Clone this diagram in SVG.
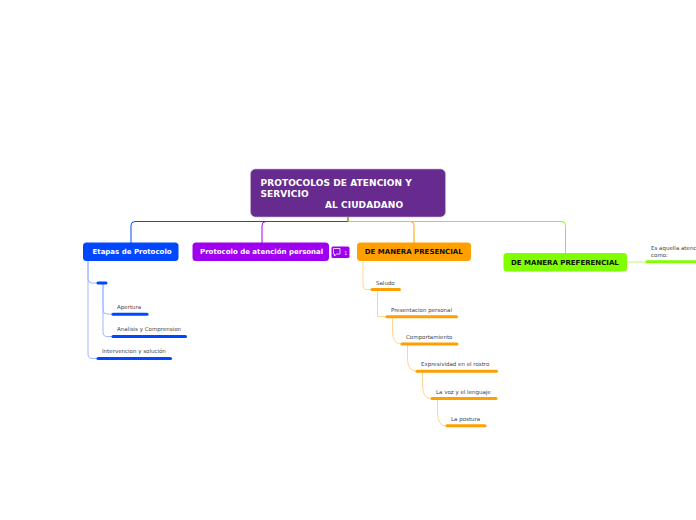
<svg xmlns="http://www.w3.org/2000/svg" width="696" height="520" viewBox="0 0 696 520">
<style>
text{font-family:"DejaVu Sans",Verdana,sans-serif}
.r{font-size:9px;font-weight:bold;fill:#fff;letter-spacing:.08px}
.m{font-size:7px;font-weight:bold}
.s{font-size:5.5px;fill:#444}
.c{fill:none;stroke-width:1}
.b{stroke:#0048ff}.p{stroke:#a000f0}.o{stroke:#ffa000}.g{stroke:#80ff00}
.bl{stroke:#9db8ff}.ol{stroke:#ffd596}.gl{stroke:#dcffb8}
.u{stroke-width:3;stroke-linecap:round;fill:none}
</style>
<rect width="696" height="520" fill="#fff"/>
<g id="connectors">
<path class="c b" d="M348 221.500H135Q131 221.500 131 225.500V243"/>
<path class="c o" d="M348 221.500H410.500Q414 221.500 414 225.500V243"/>
<path class="c g" d="M348 221.500H561.500Q565.500 221.500 565.500 225.500V253"/>
<path class="c p" d="M348 221.500H266Q262 221.500 262 225.500V243"/>
<path d="M348 217V221.500" stroke="#80a000" stroke-width="1.500" fill="none"/>
<path class="c bl" d="M88 261V279Q88 283 92 283H97"/>
<path class="c bl" d="M88 261V354Q88 358.500 92 358.500H97"/>
<path class="c bl" d="M103 284V310Q103 314 107 314H112"/>
<path class="c bl" d="M103 284V332Q103 336.500 107 336.500H112"/>
<path class="c ol" d="M363 261V285Q363 289.500 367 289.500H371"/>
<path class="c ol" d="M377.500 290V316.500H386"/>
<path class="c ol" d="M392.500 317V331Q392.500 344 401 344"/>
<path class="c ol" d="M407.500 344V358Q407.500 371 416 371"/>
<path class="c ol" d="M422.500 371V385Q422.500 398.500 431 398.500"/>
<path class="c ol" d="M437.500 399V412Q437.500 426 446 426"/>
<path d="M627 262H646" stroke="#dcffb8" stroke-width="2" fill="none"/>
</g>
<g id="root"><rect x="250.500" y="169" width="195" height="48" rx="5" fill="#672b8f" stroke="#c9b4d6" stroke-width=".6"/>
<text class="r" x="260.500" y="186.300">PROTOCOLOS DE ATENCION Y</text><text class="r" x="260.500" y="197">SERVICIO</text><text class="r" x="325" y="208">AL CIUDADANO</text></g>
<g id="etapas"><rect x="83" y="242.500" width="95.500" height="18.500" rx="3.500" fill="#0048ff"/><text class="m" x="92.500" y="254.300" fill="#fff">Etapas de Protocolo</text></g>
<g id="protocolo"><rect x="192.500" y="242.500" width="136.500" height="18.500" rx="3.500" fill="#a000f0"/><text class="m" x="200" y="254.300" fill="#fff">Protocolo de atención personal</text>
<rect x="331.500" y="246.500" width="18" height="11.500" rx="1.500" fill="#a000f0"/><path d="M333.500 248.500h6.500v5.500h-3.500l-2 2v-2h-1z" fill="none" stroke="#fff" stroke-width=".8"/><text x="344" y="254.800" font-size="5.600" fill="#e8c8ff">1</text></g>
<g id="presencial"><rect x="357" y="242.500" width="114" height="18.500" rx="3.500" fill="#ffa000"/><text class="m" x="364.800" y="254.300" fill="#111">DE MANERA PRESENCIAL</text></g>
<g id="preferencial"><rect x="503.500" y="253" width="123.500" height="18.500" rx="3.500" fill="#80ff00"/><text class="m" x="511" y="264.800" fill="#111">DE MANERA PREFERENCIAL</text></g>
<g id="blank"><path class="u" d="M98 283H106" stroke="#0048ff"/></g>
<g id="apertura"><text class="s" x="117" y="309">Apertura</text><path class="u" d="M113 314.300H147" stroke="#0048ff"/></g>
<g id="analisis"><text class="s" x="117" y="331">Analisis y Comprension</text><path class="u" d="M113 336.500H185.500" stroke="#0048ff"/></g>
<g id="intervencion"><text class="s" x="102" y="353">Intervencion y solución</text><path class="u" d="M98 358.500H170.500" stroke="#0048ff"/></g>
<g id="saludo"><text class="s" x="376" y="285">Saludo</text><path class="u" d="M372 289.500H399.500" stroke="#ffa000"/></g>
<g id="presentacion"><text class="s" x="391" y="312">Presentacion personal</text><path class="u" d="M387 316.800H456.500" stroke="#ffa000"/></g>
<g id="comportamiento"><text class="s" x="406" y="339">Comportamiento</text><path class="u" d="M402 344H457" stroke="#ffa000"/></g>
<g id="expresividad"><text class="s" x="421" y="366">Expresividad en el rostro</text><path class="u" d="M417 371.300H496.500" stroke="#ffa000"/></g>
<g id="voz"><text class="s" x="436" y="394">La voz y el lenguaje</text><path class="u" d="M432 398.500H496" stroke="#ffa000"/></g>
<g id="postura"><text class="s" x="451" y="421">La postura</text><path class="u" d="M447 425.800H485" stroke="#ffa000"/></g>
<g id="nota"><text class="s" x="651" y="250">Es aquella atenc</text><text class="s" x="651" y="257">como:</text><path class="u" d="M647 261.800H696" stroke="#80ff00"/></g>
</svg>
